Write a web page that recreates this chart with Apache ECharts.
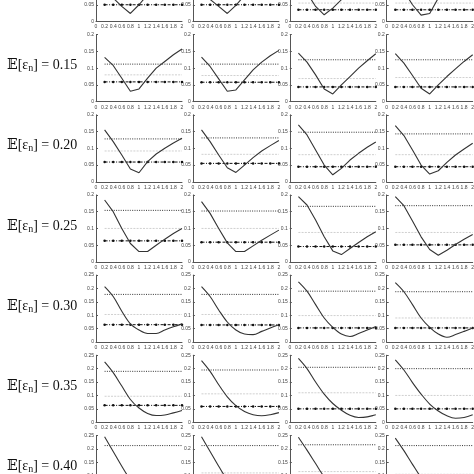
<!DOCTYPE html>
<html>
<head>
<meta charset="utf-8">
<script src="https://cdn.jsdelivr.net/npm/echarts@6/dist/echarts.min.js"></script>
<style>
  html, body { margin: 0; padding: 0; background: #fff; }
  #chart { width: 474px; height: 474px; }
</style>
</head>
<body>
<div id="chart"></div>
<script>
// x positions of the computed points
const xs = [0.2, 0.4, 0.6, 0.8, 1, 1.2, 1.4, 1.6, 1.8, 2]

// row labels (the first row is cut off at the top of the picture)
const rowLabels = ['0.10', '0.15', '0.20', '0.25', '0.30', '0.35', '0.40']
const yMax = [0.2, 0.2, 0.2, 0.2, 0.25, 0.25, 0.25]

// curves[row][col]
const curves = [
  [
    [0.115, 0.07, 0.045, 0.024, 0.05, 0.08, 0.11, 0.135, 0.16, 0.18],
    [0.11, 0.066, 0.045, 0.024, 0.048, 0.078, 0.105, 0.13, 0.155, 0.175],
    [0.125, 0.085, 0.045, 0.02, 0.04, 0.065, 0.09, 0.11, 0.13, 0.15],
    [0.125, 0.09, 0.05, 0.019, 0.024, 0.07, 0.095, 0.115, 0.135, 0.15]
  ],
  [
    [0.132, 0.108, 0.07, 0.031, 0.038, 0.07, 0.1, 0.12, 0.14, 0.157],
    [0.133, 0.105, 0.068, 0.031, 0.035, 0.065, 0.095, 0.118, 0.137, 0.153],
    [0.145, 0.118, 0.08, 0.038, 0.023, 0.05, 0.075, 0.1, 0.122, 0.143],
    [0.143, 0.115, 0.078, 0.04, 0.023, 0.05, 0.075, 0.098, 0.12, 0.14]
  ],
  [
    [0.155, 0.12, 0.08, 0.038, 0.027, 0.06, 0.083, 0.1, 0.116, 0.13],
    [0.155, 0.12, 0.08, 0.042, 0.028, 0.05, 0.072, 0.092, 0.108, 0.123],
    [0.17, 0.14, 0.095, 0.05, 0.021, 0.04, 0.065, 0.085, 0.103, 0.119],
    [0.168, 0.138, 0.095, 0.05, 0.023, 0.033, 0.058, 0.08, 0.098, 0.115]
  ],
  [
    [0.185, 0.15, 0.1, 0.055, 0.031, 0.031, 0.05, 0.068, 0.085, 0.1],
    [0.18, 0.145, 0.1, 0.057, 0.031, 0.031, 0.048, 0.065, 0.08, 0.095],
    [0.195, 0.17, 0.125, 0.075, 0.033, 0.022, 0.04, 0.058, 0.075, 0.09],
    [0.195, 0.168, 0.122, 0.075, 0.037, 0.02, 0.035, 0.052, 0.068, 0.082]
  ],
  [
    [0.207, 0.17, 0.115, 0.068, 0.045, 0.032, 0.032, 0.045, 0.057, 0.068],
    [0.207, 0.17, 0.12, 0.075, 0.045, 0.03, 0.028, 0.04, 0.053, 0.065],
    [0.225, 0.19, 0.14, 0.09, 0.055, 0.03, 0.021, 0.032, 0.045, 0.058],
    [0.222, 0.188, 0.14, 0.09, 0.055, 0.03, 0.018, 0.028, 0.04, 0.053]
  ],
  [
    [0.225, 0.185, 0.135, 0.085, 0.053, 0.033, 0.025, 0.027, 0.035, 0.044],
    [0.23, 0.19, 0.14, 0.095, 0.062, 0.04, 0.028, 0.024, 0.028, 0.036],
    [0.238, 0.2, 0.15, 0.105, 0.07, 0.045, 0.026, 0.018, 0.02, 0.028],
    [0.233, 0.195, 0.148, 0.105, 0.068, 0.042, 0.024, 0.015, 0.018, 0.028]
  ],
  [
    [0.245, 0.19, 0.135, 0.085, 0.05, 0.032, 0.022, 0.018, 0.02, 0.028],
    [0.245, 0.19, 0.135, 0.085, 0.052, 0.033, 0.022, 0.017, 0.018, 0.025],
    [0.243, 0.195, 0.145, 0.095, 0.055, 0.035, 0.022, 0.015, 0.015, 0.022],
    [0.24, 0.193, 0.142, 0.093, 0.055, 0.035, 0.022, 0.014, 0.014, 0.02]
  ]
]

// horizontal reference levels [row][col]
const upperLevel = [
  [0.1, 0.1, 0.11, 0.11],
  [0.112, 0.112, 0.125, 0.125],
  [0.128, 0.131, 0.148, 0.143],
  [0.154, 0.152, 0.166, 0.168],
  [0.178, 0.178, 0.19, 0.188],
  [0.19, 0.195, 0.205, 0.2],
  [0.212, 0.212, 0.215, 0.212]
]
const midLevel = [
  [0.07, 0.07, 0.055, 0.055],
  [0.08, 0.078, 0.069, 0.072],
  [0.092, 0.082, 0.081, 0.081],
  [0.1, 0.1, 0.088, 0.088],
  [0.103, 0.103, 0.099, 0.09],
  [0.097, 0.106, 0.11, 0.1],
  [0.1, 0.11, 0.115, 0.105]
]
const lowLevel = [
  [0.05, 0.05, 0.035, 0.035],
  [0.059, 0.058, 0.044, 0.044],
  [0.059, 0.055, 0.045, 0.045],
  [0.063, 0.059, 0.046, 0.051],
  [0.065, 0.064, 0.053, 0.053],
  [0.063, 0.059, 0.05, 0.05],
  [0.06, 0.058, 0.05, 0.05]
]

const chart = echarts.init(document.getElementById('chart'))

const grid = []
const xAxis = []
const yAxis = []
const series = []
const title = []
const tick = { fontSize: 5, color: '#444', fontFamily: 'Liberation Sans' }
const axisLine = { lineStyle: { color: '#555', width: 1 } }

for (let r = 0; r < curves.length; r++) {
  const zero = 21.5 + 80.15 * r
  for (let c = 0; c < 4; c++) {
    const i = grid.length
    // panels may run past the canvas edge, so no auto fitting
    grid.push({ left: 96 + 96.9 * c, top: zero - 67, width: 86, height: 67, outerBoundsMode: 'none' })
    xAxis.push({
      gridIndex: i, type: 'value', min: 0, max: 2, interval: 0.2,
      showMinLabel: false,
      axisLine: axisLine, axisTick: { show: false }, splitLine: { show: false },
      axisLabel: Object.assign({ margin: 3 }, tick)
    })
    yAxis.push({
      gridIndex: i, type: 'value', min: 0, max: yMax[r], interval: 0.05,
      axisLine: Object.assign({ show: true }, axisLine),
      axisTick: { show: true, inside: true, length: 2, lineStyle: { color: '#555' } },
      splitLine: { show: false },
      axisLabel: Object.assign({ margin: 2 }, tick)
    })
    const base = { type: 'line', xAxisIndex: i, yAxisIndex: i, silent: true }
    series.push(Object.assign({}, base, {
      data: xs.map(x => [x, midLevel[r][c]]),
      showSymbol: false,
      lineStyle: { color: '#c4c4c4', width: 0.8, type: [2, 1.2] }
    }))
    series.push(Object.assign({}, base, {
      data: xs.map(x => [x, upperLevel[r][c]]),
      showSymbol: false,
      lineStyle: { color: '#333', width: 1, type: [1, 1.3] }
    }))
    series.push(Object.assign({}, base, {
      data: xs.map(x => [x, lowLevel[r][c]]),
      symbol: 'circle', symbolSize: 2.5,
      itemStyle: { color: '#111' },
      lineStyle: { color: '#111', width: 1, type: [3, 1.5, 1, 1.5] }
    }))
    series.push(Object.assign({}, base, {
      data: xs.map((x, k) => [x, curves[r][c][k]]),
      showSymbol: false,
      smooth: r >= 4 ? 0.35 : false,
      lineStyle: { color: '#333', width: 1.1 },
      z: 5
    }))
  }
  if (r > 0) {
    title.push({
      text: '{e|𝔼}[ε{s|n}] = ' + rowLabels[r],
      left: 2,
      top: zero - 49,
      textStyle: {
        fontFamily: 'Liberation Serif', fontSize: 14, fontWeight: 'normal', color: '#111',
        rich: {
          e: { fontFamily: 'DejaVu Serif', fontSize: 14, color: '#111' },
          s: { fontFamily: 'Liberation Serif', fontSize: 10, color: '#111', verticalAlign: 'bottom', padding: [6, 0, 0, 0] }
        }
      }
    })
  }
}

chart.setOption({
  animation: false,
  title: title,
  grid: grid,
  xAxis: xAxis,
  yAxis: yAxis,
  series: series
})
</script>
</body>
</html>
